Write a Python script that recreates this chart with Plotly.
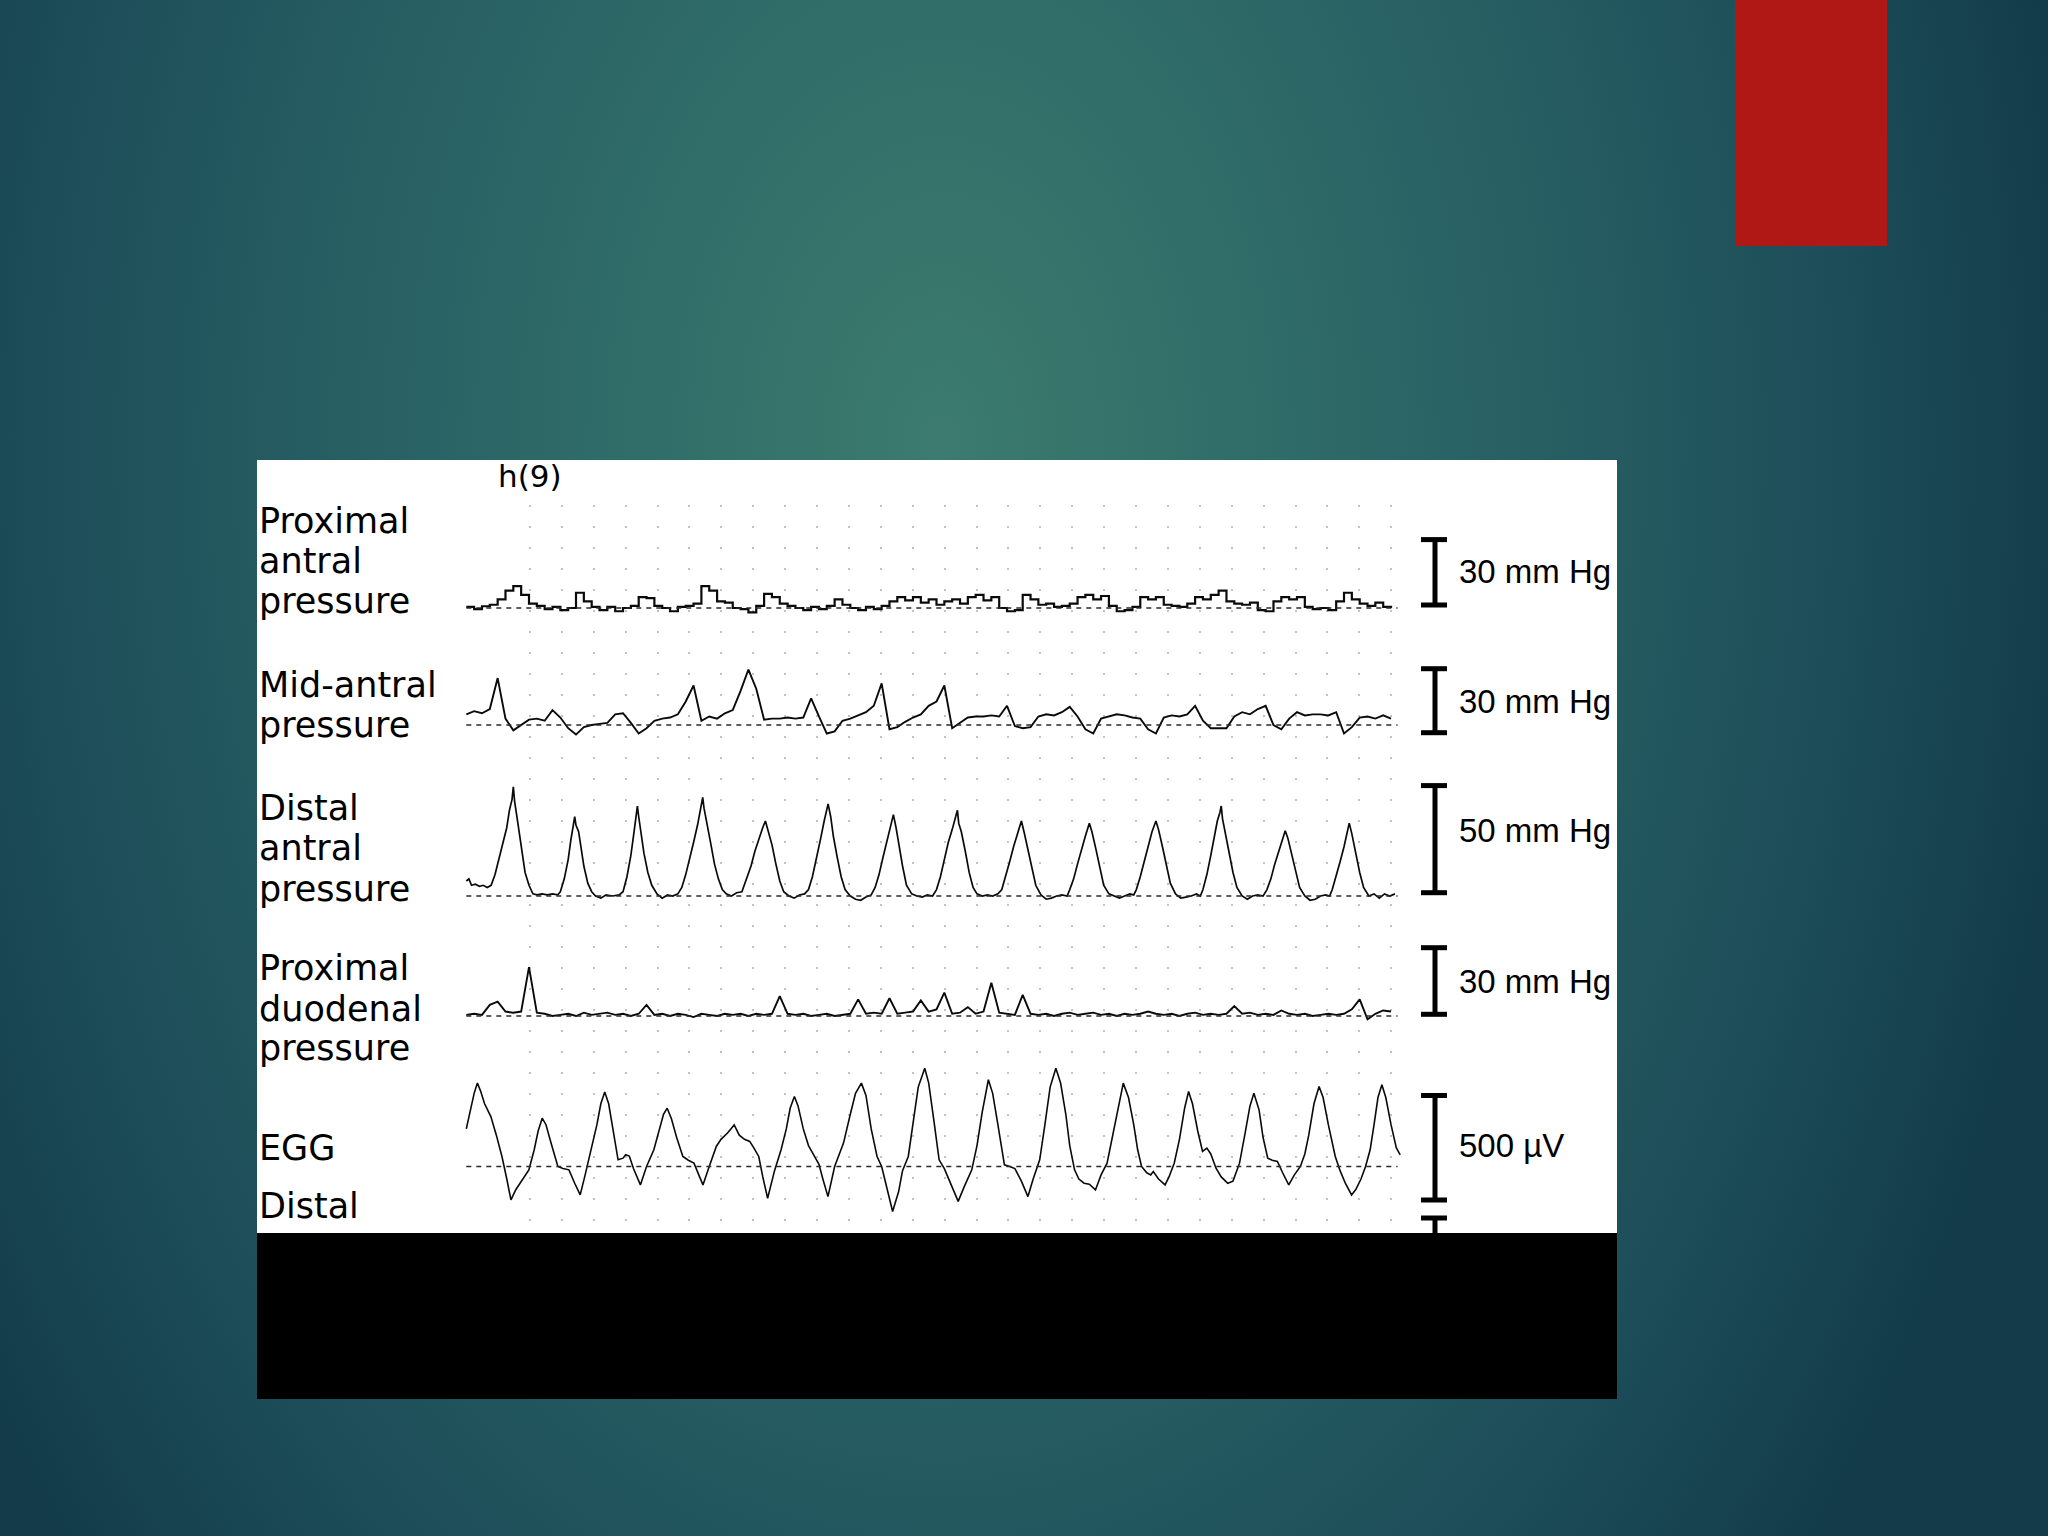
import base64
import plotly.graph_objects as go

W, H = 2048, 1536

# ---------------------------------------------------------------- data
record_title = "h(9)"
channel_labels = [
    ["Proximal", "antral", "pressure"],
    ["Mid-antral", "pressure"],
    ["Distal", "antral", "pressure"],
    ["Proximal", "duodenal", "pressure"],
    ["EGG"],
    ["Distal"],
]
scale_labels = ["30 mm Hg", "30 mm Hg", "50 mm Hg", "30 mm Hg", "500 µV"]
scale_values = [30, 30, 50, 30, 500]
record_end = 713          # time units (chart paper)
sample_step = 6           # sampling interval of the three pressure channels below

# mmHg, one value every `sample_step` time units
proximal_antral = [
    0.5, -0.5, 0.8, 1.5, 4, 8, 10, 6, 2, 1,
    -0.5, 0.5, -1, 0, 7, 3, 0.5, -1, 0.5, -1.5,
    0, 1, 5, 4.5, 1, 0, -1.5, 0.5, 1, 2,
    10, 8, 3, 2.5, 0, -0.5, -2, 1, 6.5, 5,
    2, 1, 0, -1, 0.5, -0.5, 1, 4, 1.5, 0,
    -1, 0.5, -0.5, 1, 3, 5, 3.5, 5, 2.5, 4,
    1.5, 3, 4, 2, 5, 6, 3.5, 5, 0, -1.5,
    -1, 6, 4, 1.5, 2, 0.5, 1, 2, 5, 6,
    4, 5.5, 1, -1.5, -1, 0.5, 5, 4, 5, 1.5,
    1, 0.5, 2, 5, 4, 6, 8, 3, 2, 1.5,
    2.5, -1, -1.5, 3, 5, 4, 5, 0.5, -0.5, 0,
    -1, 3, 7, 4, 2, 1, 2.5, 0.5, 1,
]
mid_antral = [
    5, 6.5, 5.5, 7.5, 22, 3, -2.5, 0, 2.5, 3,
    2, 7, 3.5, -1.5, -4.5, -1, 0, 0.5, 1, 5,
    5.5, 1, -4, -1.5, 2, 3, 3.5, 5, 11, 18.5,
    2, 4, 3, 5.5, 7, 16, 26, 17, 2.5, 3,
    3, 3.5, 3, 3.5, 12.5, 4, -4, -3, 2, 3,
    4.5, 6, 9, 19.5, -2, -1, 1.5, 3.5, 5, 9,
    11, 18.5, -1.5, 1, 3.5, 4, 4, 4.5, 4, 9,
    -0.5, -1.5, -1, 4, 5, 4.5, 6, 8.5, 4, -2,
    -4, 3, 4, 5, 4.5, 3.5, 3, -2, -4, 3.5,
    4.5, 4, 5, 9, 2, -1.5, -1.5, -1.5, 4, 6,
    5, 7.5, 9, 0, -2, 3, 6, 4.5, 5, 5,
    4.5, 6, -4, -1, 3.5, 4, 3, 4.5, 3,
]
proximal_duodenal = [
    0.5, 1, 0.5, 5, 6.5, 2, 1.5, 2, 22, 1.5,
    1, 0, 0.5, 1, 0, 1.5, 0.5, 1, 1.5, 0.5,
    1, 0, 1, 5, 0.5, 1, 0, 1, 0.5, -0.5,
    1, 0.5, 0, 1, 0.5, 1, 0, 1, 0.5, 1,
    9, 1, 0.5, 1, 0, 0.5, 1, 0, 0.5, 1,
    7.5, 1, 1.5, 1, 8, 1, 1.5, 2, 7, 2,
    3, 10.5, 1, 1.5, 4, 1, 2, 15, 1.5, 1,
    0.5, 9.5, 1, 0.5, 1, 0, 1, 1.5, 0.5, 1,
    1.5, 0.5, 1, 0, 1, 0.5, 1, 2, 1, 0.5,
    1, 0, 1, 1.5, 0.5, 1, 0.5, 1, 4.5, 1,
    1.5, 0.5, 1, 0.5, 2.5, 1, 0.5, 1, 0, 0.5,
    1, 0.5, 1, 3, 7.5, -1.5, 1, 2.5, 2,
]

# distal antral pressure (mmHg) at irregular times
distal_antral_t = [
    0, 2, 4, 7, 10, 13, 16, 19,
    22, 25, 28, 31, 33, 35, 36, 37, 39, 41, 43, 45, 48, 51, 54, 58, 62, 66, 70,
    72, 75, 78, 80, 82, 83, 84, 86, 88, 90, 93, 96, 99, 103, 107, 112, 117,
    120, 123, 126, 128, 130, 131, 132, 134, 136, 139, 142, 146, 150, 154, 158, 162,
    165, 168, 171, 174, 177, 179, 181, 182, 184, 187, 190, 193, 196, 199, 203, 207,
    211, 214, 218, 221, 224, 227, 229, 231, 234, 237, 240, 243, 247, 251, 255, 259,
    262, 265, 268, 271, 274, 276, 277, 279, 281, 284, 287, 290, 294, 298, 302, 306, 310,
    313, 316, 319, 322, 325, 327, 329, 331, 334, 337, 341, 345, 349, 353, 357,
    360, 363, 366, 369, 372, 374, 376, 377, 379, 382, 385, 388, 391, 395, 399, 403, 407,
    410, 413, 416, 419, 422, 425, 427, 430, 433, 436, 440, 444, 448, 452, 456, 460,
    462, 465, 468, 471, 474, 477, 479, 482, 485, 488, 492, 496, 500, 504, 508, 511,
    513, 516, 519, 522, 525, 528, 530, 533, 536, 539, 543, 547, 551, 555, 559, 562,
    564, 567, 570, 573, 575, 577, 578, 579, 581, 584, 587, 590, 594, 598, 602, 606, 610,
    613, 616, 619, 622, 625, 627, 629, 632, 635, 638, 642, 646, 650, 654, 658, 661,
    663, 666, 669, 672, 674, 676, 678, 681, 684, 687, 691, 695, 699, 703, 707, 711,
]
distal_antral = [
    7, 8, 5, 5.5, 4.5, 5, 4, 5,
    10, 17, 24, 32, 40, 45, 51, 44, 36, 27, 18, 11, 5, 1, 0.5, 1, 0.5, 1, 0.5,
    2, 8, 17, 26, 33, 37, 33, 30, 22, 14, 6, 2, 0, -1, 0.5, 0, 0.5,
    2, 9, 19, 28, 37, 42, 37, 29, 20, 11, 5, 1, -1, 0.5, 0, 1,
    4, 10, 17, 25, 33, 40, 46, 41, 35, 25, 15, 8, 3, 1, 0, 1.5,
    2, 7, 14, 21, 27, 32, 35, 31, 24, 15, 7, 2, 0, -1, 0.5, 1,
    3, 9, 17, 26, 35, 40, 43, 37, 28, 18, 9, 3, 0, -1.5, -2, -0.5, 0.5,
    4, 10, 18, 26, 33, 38, 32, 24, 14, 5, 1, 0, -0.5, 0.5, 0,
    3, 9, 17, 25, 31, 36, 40, 34, 30, 21, 11, 4, 1, 0, 0.5, 0, 1,
    3, 9, 16, 23, 29, 35, 30, 22, 13, 5, 0.5, -1.5, -1, 0, 0.5, 0,
    3, 8, 15, 22, 28, 34, 30, 22, 13, 5, 1, 0, -1, 0, 1, 0.5,
    3, 9, 16, 23, 30, 35, 31, 23, 14, 6, 1, -1, -0.5, 0, 1, 0,
    3, 10, 19, 28, 35, 39, 42, 36, 30, 20, 11, 4, 0, -1.5, 0, 0.5, 0,
    3, 8, 15, 21, 27, 30.5, 27, 19, 11, 4, 0, -2, -1.5, 0, 0.5, 0,
    3, 9, 16, 23, 29, 34, 29, 20, 11, 4, 0, 1, -1, 1, 0, 1,
]

# electrogastrogram (µV)
egg_t = [
    0, 3, 6, 8.5, 11, 14, 18.8, 23, 27.3, 31,
    34.2, 38, 42.7, 47.9, 52, 55, 58.1, 61, 65, 70.1,
    74, 78.6, 83, 87.2, 91, 95.7, 100, 103, 106, 109,
    112, 116.2, 120, 122, 124.8, 128, 133.3, 138, 143.6, 148,
    151, 153.8, 157, 161, 165.8, 170, 174.3, 178, 181.2, 186,
    191.4, 195, 200, 205.1, 209, 213, 217, 220, 223.9, 227,
    230.7, 236, 241, 245, 248, 251.2, 254, 258, 262, 266.6,
    270, 273, 276.9, 282, 288.8, 294, 298, 302.5, 306, 310,
    314.5, 318, 322, 326.4, 331, 334, 338.4, 342, 346, 351,
    354, 358, 362, 366, 371, 376.6, 381, 387, 391, 395,
    399.7, 403, 407, 412, 416, 420, 425, 430, 434, 439,
    443, 447, 451.4, 455, 459, 462, 465.7, 469, 473, 477,
    481.7, 486, 490.6, 494, 498, 503, 507, 511, 514, 517,
    521, 524, 526, 530, 535, 538, 542, 546, 550, 553,
    556, 560, 563.7, 567, 570, 574, 578, 583, 587, 592,
    596, 600, 603, 607, 610, 613.6, 617, 621, 625, 629.7,
    634, 638.6, 642, 645, 649, 652.9, 656, 660, 665.3, 669,
    673, 677.8, 681, 685, 688.5, 692, 695, 698, 701, 704,
    708, 712, 715,
]
egg_uv = [
    180, 260, 350, 399, 360, 300, 239, 150, 48, -60,
    -160, -110, -64, -16, 80, 170, 231, 200, 110, 0,
    -10, -16, -80, -136, -40, 80, 200, 300, 356, 300,
    180, 32, 40, 56, 50, -10, -88, 0, 80, 180,
    250, 279, 230, 140, 48, 30, 16, -40, -88, 0,
    96, 130, 160, 199, 150, 130, 120, 90, 48, -50,
    -152, -20, 80, 180, 280, 335, 290, 180, 100, 48,
    10, -60, -144, 0, 112, 250, 350, 399, 340, 180,
    48, 0, -100, -215, -120, -20, 48, 200, 380, 470,
    400, 220, 32, -10, -80, -167, -100, -16, 100, 260,
    415, 350, 200, 8, 0, -10, -70, -144, -60, 32,
    200, 380, 470, 400, 250, 100, -16, -60, -80, -85,
    -112, -40, 16, 120, 260, 399, 330, 200, 80, 0,
    -30, -40, -24, -60, -88, -50, 16, 130, 280, 359,
    300, 170, 72, 88, 60, -8, -50, -80, -70, 16,
    150, 290, 351, 270, 140, 40, 30, 24, -30, -88,
    -40, 0, 60, 150, 300, 383, 330, 200, 48, -20,
    -80, -136, -110, -60, 0, 80, 200, 330, 391, 330,
    200, 90, 56,
]

# ---------------------------------------------------------------- layout / style
def px(x):
    return x / W


def py(y):
    return 1 - y / H


T0_PX = 466.3            # pixel of t = 0
PX_PER_T = 1.30612       # pixels per time unit

# (baseline pixel, pixels per unit, bar bottom pixel)
chan_geom = [
    (608.0, 2.18, 605.0),
    (725.0, 2.133, 732.7),
    (896.0, 2.142, 892.7),
    (1016.0, 2.22, 1014.3),
    (1166.5, 0.209, 1200.0),
]


def uniform_t(vals):
    return [i * sample_step for i in range(len(vals))]


n_d = min(len(distal_antral_t), len(distal_antral))
n_e = min(len(egg_t), len(egg_uv))
series = [
    (uniform_t(proximal_antral), proximal_antral, "hv", 2.2),
    (uniform_t(mid_antral), mid_antral, "linear", 1.9),
    (distal_antral_t[:n_d], distal_antral[:n_d], "linear", 1.7),
    (uniform_t(proximal_duodenal), proximal_duodenal, "linear", 1.9),
    (egg_t[:n_e], egg_uv[:n_e], "linear", 1.6),
]

fig = go.Figure()

# empty trace on the dotted chart-paper grid subplot
fig.add_trace(go.Scatter(x=[], y=[], xaxis="x", yaxis="y", showlegend=False, hoverinfo="skip"))

for i, (tt, vv, shape, lw) in enumerate(series):
    fig.add_trace(go.Scatter(
        x=tt, y=vv, mode="lines", xaxis="x2", yaxis=f"y{i + 2}",
        line=dict(color="#0a0a0a", width=lw, shape=shape),
        showlegend=False, hoverinfo="skip",
    ))

layout_axes = {}
layout_axes["xaxis"] = dict(
    domain=[px(498), px(1400)], range=[498, 1400], tick0=498, dtick=31.9,
    showgrid=True, gridcolor="#c2c2c2", gridwidth=1.5, griddash="2px,19px",
    showticklabels=False, ticks="", zeroline=False, showline=False, anchor="y",
)
layout_axes["yaxis"] = dict(
    domain=[py(1233), py(505)], range=[0, 1], showgrid=False,
    showticklabels=False, ticks="", zeroline=False, showline=False, anchor="x",
)
layout_axes["xaxis2"] = dict(
    domain=[0, 1], range=[-T0_PX / PX_PER_T, (W - T0_PX) / PX_PER_T],
    visible=False, anchor="y2",
)
for i, (yb, ppu, _) in enumerate(chan_geom):
    ax = dict(domain=[0, 1], range=[(yb - H) / ppu, yb / ppu], visible=False, anchor="x2")
    if i > 0:
        ax["overlaying"] = "y2"
    layout_axes[f"yaxis{i + 2}"] = ax

shapes = []
# white figure panel
shapes.append(dict(type="rect", xref="paper", yref="paper", x0=px(257), x1=px(1617),
                   y0=py(1233), y1=py(460), fillcolor="white", line=dict(width=0), layer="below"))
# dashed zero lines
for i in range(5):
    shapes.append(dict(type="line", xref="x2", yref=f"y{i + 2}", x0=0, x1=record_end, y0=0, y1=0,
                       line=dict(color="#2a2a2a", width=1.3, dash="5px,5px")))
# calibration bars
BAR_X, CAP_L, CAP_R = 1435, 1421, 1447
for i, ((yb, ppu, bottom), val) in enumerate(zip(chan_geom, scale_values)):
    yref = f"y{i + 2}"
    v0 = (yb - bottom) / ppu
    v1 = v0 + val
    shapes.append(dict(type="line", xref="paper", yref=yref, x0=px(BAR_X), x1=px(BAR_X), y0=v0, y1=v1,
                       line=dict(color="black", width=5)))
    for v in (v0, v1):
        shapes.append(dict(type="line", xref="paper", yref=yref, x0=px(CAP_L), x1=px(CAP_R), y0=v, y1=v,
                           line=dict(color="black", width=5)))
# partly hidden sixth bar
shapes.append(dict(type="line", xref="paper", yref="paper", x0=px(BAR_X), x1=px(BAR_X), y0=py(1218), y1=py(1245),
                   line=dict(color="black", width=5)))
shapes.append(dict(type="line", xref="paper", yref="paper", x0=px(CAP_L), x1=px(CAP_R), y0=py(1218), y1=py(1218),
                   line=dict(color="black", width=5)))
# black band covering the bottom of the figure
shapes.append(dict(type="rect", xref="paper", yref="paper", x0=px(257), x1=px(1617),
                   y0=py(1399), y1=py(1233), fillcolor="black", line=dict(width=0), layer="above"))
# red accent block
shapes.append(dict(type="rect", xref="paper", yref="paper", x0=px(1735), x1=px(1887),
                   y0=py(246), y1=py(-2), fillcolor="#B01815", line=dict(width=0), layer="above"))

annotations = []
LABEL_FONT = dict(family="DejaVu Sans", size=35, color="black")
label_baselines = [[533, 573, 613], [697, 737], [820, 860, 901], [980, 1021, 1060], [1160], [1218]]
for lines, bases in zip(channel_labels, label_baselines):
    for text, base in zip(lines, bases):
        annotations.append(dict(text=text, xref="paper", yref="paper", x=px(258), y=py(base - 0.346 * 35),
                                xanchor="left", yanchor="middle", showarrow=False, font=LABEL_FONT,
                                borderpad=0))
annotations.append(dict(text=record_title, xref="paper", yref="paper", x=px(497), y=py(487 - 0.346 * 31),
                        xanchor="left", yanchor="middle", showarrow=False,
                        font=dict(family="DejaVu Sans", size=31, color="black"), borderpad=0))
SCALE_FONT = dict(family="Liberation Sans", size=33, color="black")
scale_baselines = [583, 713, 842, 993, 1157]
for text, base in zip(scale_labels, scale_baselines):
    annotations.append(dict(text=text, xref="paper", yref="paper", x=px(1458), y=py(base - 0.3465 * 33),
                            xanchor="left", yanchor="middle", showarrow=False, font=SCALE_FONT,
                            borderpad=0))

# slide background: radial teal gradient
svg = (
    '<svg xmlns="http://www.w3.org/2000/svg" width="2048" height="1536" viewBox="0 0 2048 1536" '
    'preserveAspectRatio="none"><defs>'
    '<radialGradient id="g" gradientUnits="userSpaceOnUse" cx="940" cy="440" r="1150" '
    'gradientTransform="translate(940 440) scale(1 1.5) translate(-940 -440)">'
    '<stop offset="0" stop-color="#3C7B6E"/>'
    '<stop offset="0.3" stop-color="#2F6B68"/>'
    '<stop offset="0.55" stop-color="#265D62"/>'
    '<stop offset="0.8" stop-color="#1C4C58"/>'
    '<stop offset="1" stop-color="#133B4A"/>'
    '</radialGradient></defs>'
    '<rect x="0" y="0" width="2048" height="1536" fill="url(#g)"/></svg>'
)
bg_uri = "data:image/svg+xml;base64," + base64.b64encode(svg.encode("utf-8")).decode("ascii")

fig.update_layout(
    width=W, height=H, autosize=False,
    margin=dict(l=0, r=0, t=0, b=0, pad=0),
    paper_bgcolor="#21565C", plot_bgcolor="rgba(0,0,0,0)",
    showlegend=False,
    shapes=shapes, annotations=annotations,
    images=[dict(source=bg_uri, xref="paper", yref="paper", x=0, y=1, sizex=1, sizey=1,
                 xanchor="left", yanchor="top", sizing="stretch", layer="below")],
    **layout_axes,
)

fig.write_html(
    "out.html",
    config={"displayModeBar": False},
    post_script="document.body.style.margin='0';document.body.style.overflow='hidden';",
)
